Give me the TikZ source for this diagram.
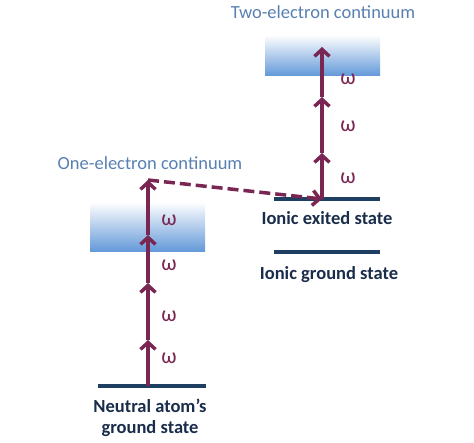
\documentclass[tikz,border=0pt]{standalone}
\usepackage{fontspec}
\setmainfont{Carlito}
\usetikzlibrary{arrows.meta, positioning}
\definecolor{photon}{RGB}{122,38,82}
\definecolor{level}{RGB}{30,62,98}
\definecolor{statetext}{RGB}{25,45,75}
\definecolor{contlabel}{RGB}{88,128,178}
\definecolor{contfill}{RGB}{98,152,216}
\begin{document}
\begin{tikzpicture}[x=1pt, y=-1pt,
  lvl/.style={level, line width=3.5pt},
  phot/.style={photon, line width=3.5pt, -{Straight Barb[length=7pt, width=15pt]}},
  omega/.style={photon, font=\fontsize{22}{22}\selectfont},
  statelbl/.style={statetext, font=\fontsize{18.5}{21}\selectfont\bfseries, align=center},
  contlbl/.style={contlabel, font=\fontsize{18.5}{20}\selectfont}]
  \useasboundingbox (0,0) rectangle (474,443);
  % continua
  \shade[top color=white, bottom color=contfill] (90,202) rectangle (205,252);
  \shade[top color=white, bottom color=contfill] (265,35) rectangle (380,76);
  \node[contlbl] (one) at (150,163) {One-electron continuum};
  \node[contlbl] (two) at (323,12) {Two-electron continuum};
  % levels
  \coordinate (gsL) at (98,386);  \coordinate (gsR) at (206,386);
  \coordinate (exL) at (274,199); \coordinate (exR) at (380,199);
  \coordinate (igL) at (274,252); \coordinate (igR) at (380,252);
  \draw[lvl] (gsL) -- (gsR);
  \draw[lvl] (exL) -- (exR);
  \draw[lvl] (igL) -- (igR);
  \node[statelbl] (neutral) at (150,418) {Neutral atom’s\\ground state};
  \node[statelbl] (ionex) at (327,218) {Ionic exited state};
  \node[statelbl] (iongs) at (329,275) {Ionic ground state};
  % four photons, left
  \coordinate (a0) at (148,386);
  \coordinate (a1) at (148,340);
  \coordinate (a2) at (148,283);
  \coordinate (a3) at (148,235);
  \coordinate (a4) at (148,180);
  \draw[phot] (a0) -- (a1);
  \draw[phot] (a1) -- (a2);
  \draw[phot] (a2) -- (a3);
  \draw[phot] (a3) -- (a4);
  \node[omega] (w1) at (169,358) {ω};
  \node[omega] (w2) at (169,316) {ω};
  \node[omega] (w3) at (169,265) {ω};
  \node[omega] (w4) at (169,220) {ω};
  % relaxation to the ion
  \coordinate (b0) at (322,199);
  \draw[phot, dashed, dash pattern=on 11pt off 5pt] (a4) -- (b0);
  % three photons, right
  \coordinate (b1) at (322,153);
  \coordinate (b2) at (322,97);
  \coordinate (b3) at (322,47);
  \draw[phot] (b0) -- (b1);
  \draw[phot] (b1) -- (b2);
  \draw[phot] (b2) -- (b3);
  \node[omega] (v1) at (348,178) {ω};
  \node[omega] (v2) at (348,126) {ω};
  \node[omega] (v3) at (348,79) {ω};
\end{tikzpicture}
\end{document}
